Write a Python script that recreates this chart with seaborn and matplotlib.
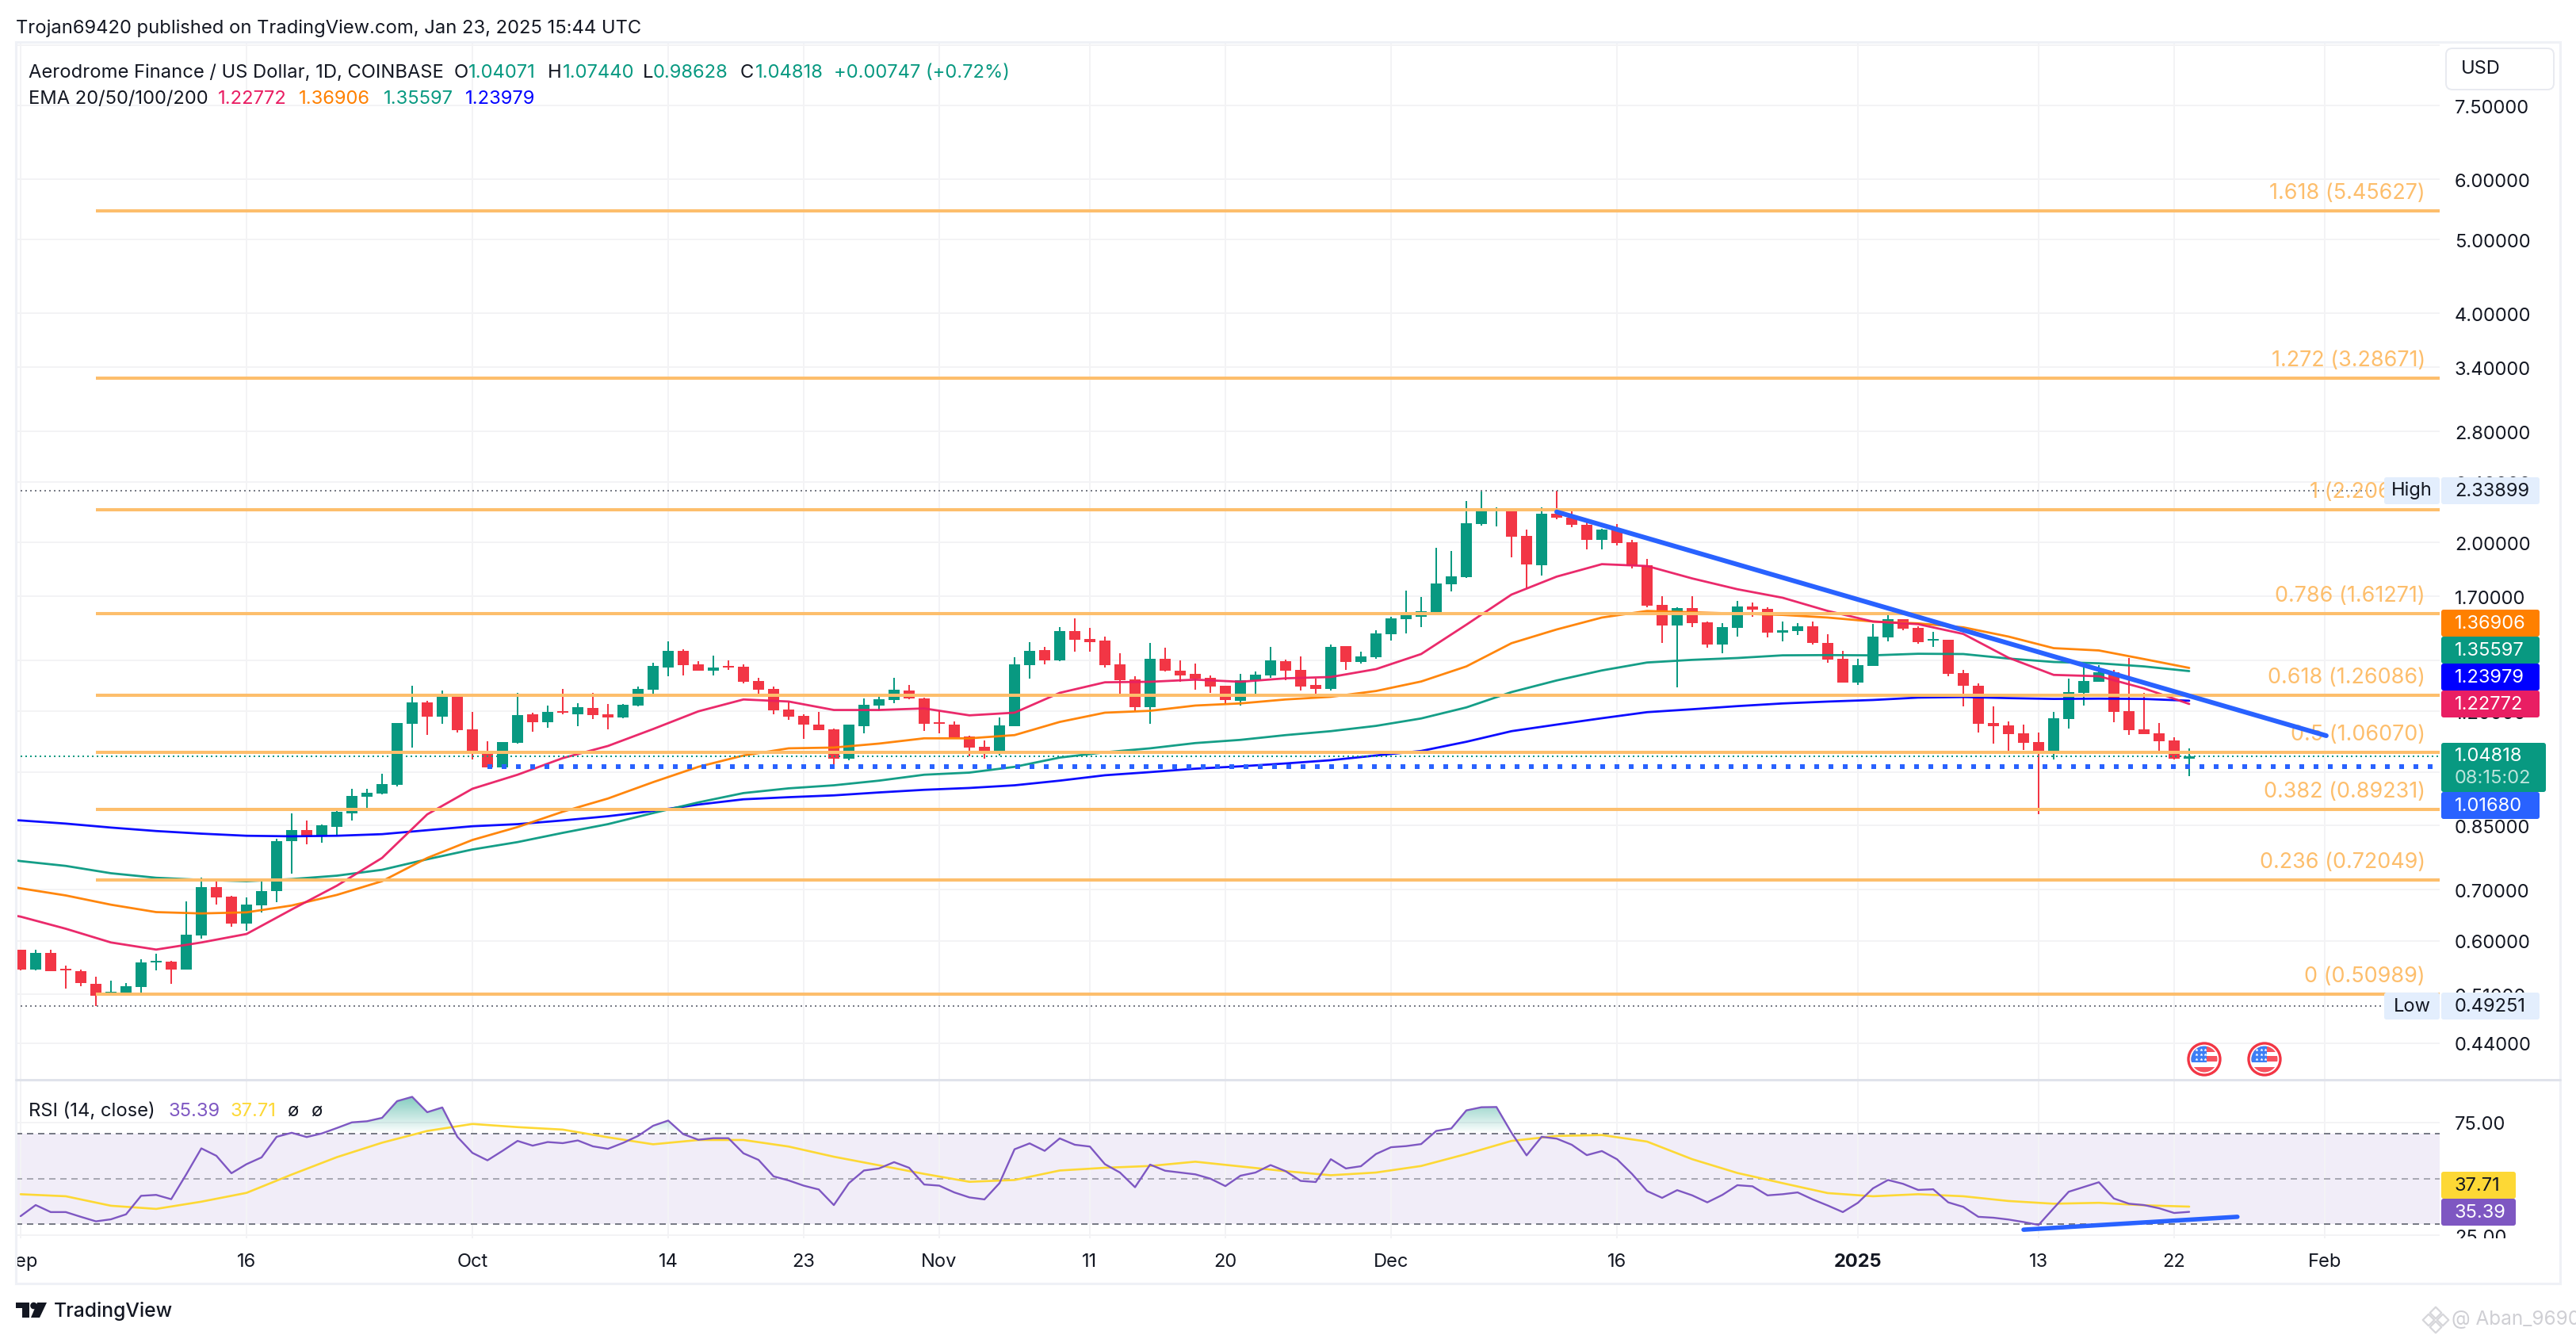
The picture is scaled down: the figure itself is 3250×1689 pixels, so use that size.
"""
Aerodrome Finance / USD daily chart with EMA, fib levels and RSI pane
"""
import numpy as np
import pandas as pd
import matplotlib
matplotlib.use('Agg')
import matplotlib.pyplot as plt
import seaborn as sns
from matplotlib.colors import to_rgb
from matplotlib.patches import Circle, FancyBboxPatch, Polygon, Rectangle
from matplotlib.path import Path
from matplotlib.ticker import NullLocator

# ============================================================================
# DATA
# ============================================================================
opens = [.583, .550, .578, .551, .547, .527, .508, .513, .522, .562,
         .563, .550, .610, .706, .686, .632, .668, .697, .811, .839,
         .823, .847, .882, .928, .936, .961, 1.156, 1.234, 1.181, 1.255,
         1.137, 1.058, 1.0135, 1.092, 1.190, 1.162, 1.201, 1.190, 1.213, 1.190,
         1.179, 1.222, 1.282, 1.371, 1.442, 1.384, 1.358, 1.377, 1.374, 1.316,
         1.285, 1.207, 1.184, 1.153, 1.137, 1.041, 1.148, 1.222, 1.243, 1.279,
         1.249, 1.162, 1.153, 1.113, 1.079, 1.063, 1.148, 1.381, 1.445, 1.401,
         1.531, 1.494, 1.487, 1.384, 1.322, 1.216, 1.407, 1.358, 1.345, 1.329,
         1.297, 1.240, 1.319, 1.338, 1.397, 1.361, 1.300, 1.285, 1.463, 1.394,
         1.414, 1.516, 1.587, 1.598, 1.621, 1.763, 1.802, 2.116, 2.204, 2.209,
         2.041, 1.868, 2.183, 2.157, 2.111, 2.017, 2.081, 2.002, 1.868, 1.657,
         1.557, 1.641, 1.572, 1.470, 1.546, 1.649, 1.637, 1.523, 1.531, 1.553,
         1.477, 1.407, 1.310, 1.377, 1.502, 1.587, 1.546, 1.487, 1.491, 1.348,
         1.297, 1.159, 1.151, 1.124, 1.094, 1.056, 1.173, 1.270, 1.313, 1.351,
         1.202, 1.137, 1.124, 1.100, 1.04071]
highs = [.584, .583, .583, .557, .550, .538, .531, .528, .567, .577,
         .564, .676, .726, .721, .687, .684, .725, .817, .882, .863,
         .853, .890, .950, .950, .994, 1.159, 1.297, 1.240, 1.279, 1.255,
         1.199, 1.097, 1.094, 1.270, 1.196, 1.222, 1.285, 1.231, 1.270, 1.228,
         1.228, 1.294, 1.391, 1.484, 1.449, 1.397, 1.421, 1.401, 1.384, 1.329,
         1.294, 1.234, 1.190, 1.199, 1.140, 1.153, 1.249, 1.267, 1.329, 1.301,
         1.252, 1.201, 1.165, 1.116, 1.100, 1.179, 1.414, 1.480, 1.459, 1.549,
         1.590, 1.545, 1.505, 1.431, 1.335, 1.477, 1.455, 1.401, 1.387, 1.338,
         1.297, 1.345, 1.355, 1.459, 1.404, 1.418, 1.326, 1.469, 1.463, 1.438,
         1.534, 1.598, 1.730, 1.697, 1.969, 1.950, 2.268, 2.339, 2.225, 2.214,
         2.081, 2.225, 2.339, 2.220, 2.152, 2.086, 2.116, 2.017, 1.904, 1.701,
         1.645, 1.701, 1.575, 1.568, 1.677, 1.669, 1.645, 1.575, 1.568, 1.575,
         1.516, 1.442, 1.407, 1.564, 1.606, 1.587, 1.553, 1.527, 1.491, 1.361,
         1.307, 1.219, 1.165, 1.153, 1.126, 1.199, 1.326, 1.391, 1.381, 1.361,
         1.411, 1.270, 1.159, 1.110, 1.0744]
lows = [.549, .549, .547, .519, .523, .4925, .508, .511, .513, .549,
        .527, .550, .604, .669, .626, .619, .654, .674, .735, .803,
        .807, .825, .863, .888, .934, .957, 1.076, 1.118, 1.156, 1.126,
        1.038, 1.0135, 1.0135, 1.089, 1.129, 1.143, 1.190, 1.148, 1.173, 1.137,
        1.176, 1.219, 1.264, 1.335, 1.338, 1.358, 1.338, 1.361, 1.307, 1.255,
        1.190, 1.170, 1.105, 1.134, 1.021, 1.036, 1.124, 1.205, 1.231, 1.246,
        1.132, 1.124, 1.110, 1.048, 1.041, 1.0505, 1.148, 1.326, 1.384, 1.397,
        1.438, 1.438, 1.371, 1.267, 1.201, 1.156, 1.355, 1.313, 1.282, 1.270,
        1.228, 1.222, 1.264, 1.329, 1.319, 1.279, 1.261, 1.279, 1.361, 1.387,
        1.407, 1.487, 1.520, 1.549, 1.618, 1.726, 1.798, 2.106, 2.101, 1.913,
        1.742, 1.810, 2.146, 2.096, 1.960, 1.960, 1.983, 1.850, 1.645, 1.477,
        1.291, 1.549, 1.456, 1.431, 1.505, 1.598, 1.502, 1.484, 1.512, 1.470,
        1.391, 1.310, 1.300, 1.377, 1.484, 1.534, 1.473, 1.459, 1.335, 1.219,
        1.126, 1.089, 1.056, 1.068, .880, 1.038, 1.140, 1.222, 1.313, 1.162,
        1.118, 1.121, 1.058, 1.038, .98628]
closes = [.550, .578, .547, .549, .528, .508, .514, .523, .562, .565,
          .550, .611, .706, .684, .632, .669, .697, .811, .839, .823,
          .851, .886, .930, .939, .964, 1.159, 1.234, 1.181, 1.255, 1.134,
          1.056, 1.0135, 1.094, 1.187, 1.162, 1.199, 1.196, 1.216, 1.187, 1.179,
          1.225, 1.285, 1.377, 1.442, 1.381, 1.358, 1.371, 1.371, 1.313, 1.282,
          1.204, 1.181, 1.153, 1.134, 1.041, 1.153, 1.225, 1.246, 1.282, 1.249,
          1.156, 1.156, 1.110, 1.076, 1.063, 1.151, 1.384, 1.442, 1.401, 1.531,
          1.491, 1.480, 1.381, 1.319, 1.216, 1.407, 1.358, 1.338, 1.326, 1.294,
          1.243, 1.319, 1.342, 1.401, 1.358, 1.294, 1.285, 1.459, 1.394, 1.418,
          1.520, 1.590, 1.606, 1.625, 1.768, 1.806, 2.121, 2.209, 2.214, 2.036,
          1.872, 2.183, 2.157, 2.111, 2.017, 2.081, 1.997, 1.863, 1.653, 1.557,
          1.641, 1.568, 1.470, 1.549, 1.649, 1.633, 1.523, 1.534, 1.553, 1.477,
          1.404, 1.310, 1.381, 1.505, 1.587, 1.542, 1.480, 1.494, 1.345, 1.297,
          1.156, 1.148, 1.121, 1.092, 1.056, 1.176, 1.273, 1.316, 1.351, 1.199,
          1.134, 1.121, 1.097, 1.0407, 1.04818]

ema_days = [-1] + list(range(0, 145, 3))
ema20 = [.6504, .6452, .622, .5967, .5840, .5967, .6122, .6593, .7085, .7705,
         .8791, .9499, .9911, 1.0422, 1.0812, 1.1380, 1.2005, 1.2445, 1.2368, 1.2055,
         1.2055, 1.2112, 1.1861, 1.1957, 1.2696, 1.3108, 1.3129, 1.3214, 1.3129, 1.3267,
         1.3320, 1.3641, 1.4278, 1.5603, 1.7092, 1.8046, 1.8739, 1.8634, 1.7946, 1.7370,
         1.6929, 1.6266, 1.5753, 1.5629, 1.5173, 1.4119, 1.3405, 1.3351, 1.2870, 1.22772]
ema50 = [.7085, .7029, .6879, .6689, .6541, .6515, .6536, .6673, .6890, .7182,
         .7705, .8136, .8460, .8862, .9223, .9691, 1.0150, 1.0505, 1.0735, 1.0760,
         1.0890, 1.1065, 1.1065, 1.1173, 1.1627, 1.1957, 1.2025, 1.2218, 1.2297, 1.2445,
         1.2545, 1.2767, 1.3140, 1.3753, 1.4754, 1.5380, 1.5944, 1.6266, 1.6200, 1.6136,
         1.6072, 1.5944, 1.5753, 1.5666, 1.5479, 1.5052, 1.4534, 1.4434, 1.4062, 1.36906]
ema100 = [.7686, .7632, .7522, .7357, .7257, .7211, .7182, .7228, .7303, .7434,
          .7675, .7905, .8084, .8313, .8535, .8826, .9115, .9376, .9511, .9599,
          .9735, .9911, .9975, 1.0150, 1.0439, 1.0607, 1.0735, 1.0907, 1.1013, 1.1173,
          1.1307, 1.1489, 1.175, 1.2149, 1.2726, 1.3182, 1.3587, 1.3917, 1.4029, 1.4108,
          1.4222, 1.4233, 1.4222, 1.4290, 1.4278, 1.4085, 1.3939, 1.3884, 1.3753, 1.35597]
ema200 = [.8651, .8631, .8549, .8447, .8359, .8293, .8240, .8227, .8240, .8280,
          .8380, .8481, .8535, .8631, .8742, .8883, .9055, .9201, .9260, .9311,
          .9394, .9469, .9522, .9599, .9735, .9895, .9990, 1.0094, 1.0166, 1.0255,
          1.0356, 1.0505, 1.065, 1.0950, 1.1307, 1.1534, 1.1758, 1.1976, 1.2082, 1.2197,
          1.2296, 1.2366, 1.2425, 1.2515, 1.2535, 1.2495, 1.2465, 1.2475, 1.2465, 1.23979]

rsi_values = [33.5, 38.4, 35.3, 35.3, 33.2, 31.2, 32.1, 34.3, 42.5, 42.9,
              41.0, 52.0, 63.5, 60.2, 52.5, 56.5, 59.5, 68.6, 70.4, 68.5,
              70.1, 72.5, 75.0, 75.5, 77.0, 84.4, 86.3, 79.5, 81.6, 68.6,
              61.5, 58.2, 62.4, 66.8, 64.7, 66.3, 65.8, 67.0, 64.4, 63.3,
              65.9, 69.0, 73.5, 75.8, 69.8, 67.3, 68.0, 68.0, 61.3, 58.4,
              51.1, 49.3, 47.0, 45.3, 38.4, 48.1, 53.7, 54.6, 57.4, 54.9,
              47.5, 47.0, 44.0, 41.8, 40.9, 48.1, 63.1, 65.7, 62.4, 67.9,
              65.1, 64.3, 56.5, 52.8, 46.3, 56.3, 53.6, 52.8, 52.0, 50.1,
              46.8, 51.4, 52.8, 56.1, 53.4, 49.1, 48.6, 58.7, 54.6, 55.6,
              61.0, 64.0, 64.5, 65.4, 71.2, 72.3, 80.3, 81.7, 81.8, 70.4,
              60.4, 68.6, 67.8, 65.1, 60.5, 62.3, 58.7, 52.2, 44.6, 41.6,
              45.0, 42.7, 39.6, 42.9, 47.2, 46.7, 42.7, 43.2, 44.0, 40.9,
              38.2, 35.3, 39.4, 45.8, 49.5, 47.8, 45.1, 45.4, 39.6, 37.6,
              33.2, 32.8, 32.0, 30.9, 29.6, 37.0, 44.3, 46.4, 48.5, 41.3,
              39.0, 38.4, 37.0, 34.9, 35.39]
rsi_ma_days = list(range(0, 145, 3))
rsi_ma = [43.2, 42.3, 38.1, 36.7, 39.9, 43.8, 51.9, 59.6, 66.0, 71.2,
          74.3, 72.9, 71.8, 68.4, 65.3, 67.2, 67.2, 64.3, 59.8, 56.0,
          52.2, 48.7, 49.5, 53.7, 54.9, 55.7, 57.6, 55.5, 53.4, 51.6,
          52.8, 55.7, 61.0, 66.8, 69.0, 69.4, 66.5, 58.7, 52.6, 48.1,
          43.7, 42.3, 43.2, 42.3, 40.2, 39.0, 39.4, 38.3, 37.71]

fib_ratios = ['0', '0.236', '0.382', '0.5', '0.618', '0.786', '1', '1.272', '1.618']
fib_prices = [0.50989, 0.72049, 0.89231, 1.06070, 1.26086, 1.61271, 2.20660, 3.28671, 5.45627]

price_ticks = [9.0, 7.5, 6.0, 5.0, 4.0, 3.4, 2.8, 2.4, 2.0, 1.7, 1.4, 1.2, 1.0, 0.85, 0.7, 0.6, 0.51, 0.44]
rsi_ticks = [75, 25]
time_ticks = [0, 15, 30, 43, 52, 61, 71, 80, 91, 106, 122, 134, 143, 153]
time_labels = ['Sep', '16', 'Oct', '14', '23', 'Nov', '11', '20', 'Dec', '16', '2025', '13', '22', 'Feb']
event_days = [145, 149]

trend_days = [102, 153.1]
trend_prices = [2.195, 1.1153]
rsi_trend_days = [133, 147.2]
rsi_trend_values = [27.5, 33.2]
support_price = 1.0168
last_price = 1.04818
high_price = 2.33899
low_price = 0.49251

# ============================================================================
# STYLE / LAYOUT
# ============================================================================
GREEN = '#089981'
RED = '#F23645'
PINK = '#E91E63'
ORANGE = '#FF8000'
BLUE = '#0000FF'
DRAW_BLUE = '#2962FF'
FIB = '#FDBE6C'
PURPLE = '#7E57C2'
YELLOW = '#FDD835'
TEXT = '#131722'
GRID = '#F3F3F5'
FRAME = '#EFF1F6'
GREY = '#787B86'

W, H = 3250, 1690
LEFT, RIGHT, SCALE_RIGHT = 20, 3078, 3230
MAIN_TOP, MAIN_BOTTOM = 54, 1363
RSI_BOTTOM = 1563
PX_PER_DAY = 19.0
DAY0_PX = 26.0

sns.set_theme(style='white')
plt.rcParams['font.family'] = ['Inter', 'DejaVu Sans']

fig = plt.figure(figsize=(W / 100, H / 100), dpi=100, facecolor='white')


def axes_from_px(x0, y0, x1, y1):
    return fig.add_axes([x0 / W, 1 - y1 / H, (x1 - x0) / W, (y1 - y0) / H])


ax = axes_from_px(LEFT, MAIN_TOP, RIGHT, MAIN_BOTTOM)
ax_rsi = axes_from_px(LEFT, MAIN_BOTTOM + 2, RIGHT, RSI_BOTTOM)
over = fig.add_axes([0, 0, 1, 1], zorder=10)
over.set_xlim(0, W)
over.set_ylim(H, 0)
over.axis('off')

xlim = ((LEFT - DAY0_PX) / PX_PER_DAY, (RIGHT - DAY0_PX) / PX_PER_DAY)
price_lim = (np.exp((974.5 - MAIN_BOTTOM) / 417), np.exp((974.5 - MAIN_TOP) / 417))
rsi_lim = (70 - (RSI_BOTTOM - 1431) / 2.85, 70 + (1431 - MAIN_BOTTOM - 2) / 2.85)

for a in (ax, ax_rsi):
    for side in a.spines:
        a.spines[side].set_visible(False)
    a.set_facecolor('white')
    a.set_axisbelow(True)
    a.grid(True, color=GRID, linewidth=1.44)
    a.tick_params(length=0)

# ============================================================================
# PRICE PANE
# ============================================================================
candles = pd.DataFrame({'open': opens, 'high': highs, 'low': lows, 'close': closes})
candles['day'] = np.arange(len(candles))
colors = np.where(candles['close'] >= candles['open'], GREEN, RED)

ax.set_yscale('log')
ax.vlines(candles['day'], candles['low'], candles['high'], colors=colors, linewidth=1.44, zorder=2)
ax.bar(candles['day'], (candles['close'] - candles['open']).abs(),
       bottom=candles[['open', 'close']].min(axis=1), width=14 / PX_PER_DAY,
       color=colors, linewidth=0, zorder=2)

for values, color in [(ema200, BLUE), (ema100, GREEN), (ema50, ORANGE), (ema20, PINK)]:
    sns.lineplot(x=ema_days, y=values, ax=ax, color=color, linewidth=2.0, alpha=0.95,
                 estimator=None, errorbar=None, sort=False, legend=False, zorder=3)

# fib levels + their labels
ax.hlines(fib_prices, 5, xlim[1], colors=FIB, linewidth=2.9, zorder=4)
label_day = (3060 - DAY0_PX) / PX_PER_DAY
for ratio, price in zip(fib_ratios, fib_prices):
    ax.annotate(f'{ratio} ({price:.5f})', (label_day, price), xytext=(0, 23 * 0.72),
                textcoords='offset points', ha='right', va='center',
                color=FIB, fontsize=19.4, zorder=4)

# dotted reference lines
ax.plot(xlim, [last_price, last_price], color=GREEN, linewidth=1.44, linestyle=(0, (1, 2)), zorder=3)
ax.plot(xlim, [high_price, high_price], color=GREY, linewidth=1.44, linestyle=(0, (1, 2)), zorder=3)
ax.plot(xlim, [low_price, low_price], color=GREY, linewidth=1.44, linestyle=(0, (1, 2)), zorder=3)
ax.plot([31, xlim[1]], [support_price, support_price], color=DRAW_BLUE, linewidth=4.32,
        linestyle=(0, (1, 2)), zorder=5)

# trend line
ax.plot(trend_days, trend_prices, color=DRAW_BLUE, linewidth=4.3, solid_capstyle='round', zorder=6)

ax.set_xlim(*xlim)
ax.set_ylim(*price_lim)
ax.set_xlabel('')
ax.set_ylabel('')
ax.set_xticks(time_ticks)
ax.tick_params(labelbottom=False)
ax.yaxis.tick_right()
ax.set_yticks(price_ticks)
ax.set_yticklabels(['' if v == 9.0 else f'{v:.5f}' for v in price_ticks], fontsize=17, color=TEXT)
ax.yaxis.set_minor_locator(NullLocator())
ax.tick_params(axis='y', pad=13.5)

# ============================================================================
# RSI PANE
# ============================================================================
rsi_days = np.arange(len(rsi_values))
rsi_arr = np.array(rsi_values)
ax_rsi.axhspan(30, 70, facecolor=PURPLE, alpha=0.1, linewidth=0, zorder=0.5)
for level, alpha in [(70, 1.0), (50, 0.6), (30, 1.0)]:
    ax_rsi.axhline(level, color=GREY, linewidth=1.44, linestyle=(0, (4, 3)), alpha=alpha, zorder=1)

# overbought gradient, clipped to the area above 70
poly = ax_rsi.fill_between(rsi_days, 70, rsi_arr, where=rsi_arr >= 70, interpolate=True,
                           facecolor='none', edgecolor='none')
grad = np.zeros((128, 1, 4))
grad[..., :3] = to_rgb(GREEN)
grad[..., 3] = np.linspace(0.5, 0.0, 128)[:, None]
im = ax_rsi.imshow(grad, extent=[xlim[0], xlim[1], 70, rsi_arr.max()], aspect='auto',
                   origin='upper', zorder=1.5)
im.set_clip_path(Path.make_compound_path(*poly.get_paths()), ax_rsi.transData)

sns.lineplot(x=rsi_ma_days, y=rsi_ma, ax=ax_rsi, color=YELLOW, linewidth=1.9,
             estimator=None, errorbar=None, sort=False, legend=False, zorder=3)
sns.lineplot(x=rsi_days, y=rsi_values, ax=ax_rsi, color=PURPLE, linewidth=1.7,
             estimator=None, errorbar=None, sort=False, legend=False, zorder=4)
ax_rsi.plot(rsi_trend_days, rsi_trend_values, color=DRAW_BLUE, linewidth=4.0,
            solid_capstyle='round', zorder=6)

ax_rsi.set_xlim(*xlim)
ax_rsi.set_ylim(*rsi_lim)
ax_rsi.set_xlabel('')
ax_rsi.set_ylabel('')
ax_rsi.yaxis.tick_right()
ax_rsi.set_yticks(rsi_ticks)
ax_rsi.set_yticklabels([f'{v:.2f}' for v in rsi_ticks], fontsize=17, color=TEXT)
ax_rsi.tick_params(axis='y', pad=13.5)
ax_rsi.set_xticks(time_ticks)
ax_rsi.set_xticklabels(time_labels, fontsize=17, color=TEXT)
ax_rsi.tick_params(axis='x', pad=13)

# clip the labels cut by the pane edges
clip_all = Rectangle((LEFT / W, 1 - (H - 40) / H), (SCALE_RIGHT - LEFT) / W, 1,
                     transform=fig.transFigure)
for lbl in ax_rsi.get_xticklabels():
    lbl.set_clip_on(True)
    lbl.set_clip_path(clip_all)
    if lbl.get_text() == '2025':
        lbl.set_fontweight('bold')
clip_rsi = Rectangle((0, 1 - RSI_BOTTOM / H), 1, (RSI_BOTTOM - MAIN_BOTTOM) / H, transform=fig.transFigure)
for lbl in ax_rsi.get_yticklabels():
    lbl.set_clip_on(True)
    lbl.set_clip_path(clip_rsi)

# ============================================================================
# FRAME, LEGENDS, TAGS
# ============================================================================
over.add_patch(Rectangle((LEFT, MAIN_TOP), SCALE_RIGHT - LEFT, 1620 - MAIN_TOP,
                         fill=False, edgecolor=FRAME, linewidth=2.2))
over.plot([LEFT, SCALE_RIGHT], [MAIN_BOTTOM, MAIN_BOTTOM], color='#E0E3EB', linewidth=2.2)


def txt(x, y, s, color=TEXT, size=17.1, **kw):
    return over.text(x, y, s, color=color, fontsize=size, va='center', **kw)


txt(20, 36, 'Trojan69420 published on TradingView.com, Jan 23, 2025 15:44 UTC')

txt(36, 92, 'Aerodrome Finance / US Dollar, 1D, COINBASE')
for x, s, c in [(573, 'O', TEXT), (591, '1.04071', GREEN), (691, 'H', TEXT), (710, '1.07440', GREEN),
                (811, 'L', TEXT), (824, '0.98628', GREEN), (934, 'C', TEXT), (953, '1.04818', GREEN),
                (1052, '+0.00747 (+0.72%)', GREEN)]:
    txt(x, 92, s, color=c)
txt(36, 125, 'EMA 20/50/100/200')
for x, s, c in [(275, '1.22772', PINK), (377, '1.36906', ORANGE), (484, '1.35597', GREEN), (587, '1.23979', BLUE)]:
    txt(x, 125, s, color=c)
txt(36, 1402, 'RSI (14, close)')
for x, s, c in [(213, '35.39', PURPLE), (291, '37.71', YELLOW), (363, 'ø', TEXT), (393, 'ø', TEXT)]:
    txt(x, 1402, s, color=c)


def tag(y0, y1, s, fc, tc='white', x0=3080, x1=3204):
    over.add_patch(FancyBboxPatch((x0, y0), x1 - x0, y1 - y0, boxstyle='round,pad=0,rounding_size=3',
                                  facecolor=fc, edgecolor='none'))
    if s:
        txt(3097, (y0 + y1) / 2, s, color=tc, size=17)


tag(603, 637, '2.33899', '#E3EEFD', TEXT)
over.add_patch(FancyBboxPatch((3008, 603), 70, 34, boxstyle='round,pad=0,rounding_size=3',
                              facecolor='#E3EEFD', edgecolor='none'))
txt(3043, 619, 'High', size=17, ha='center')
tag(1253, 1287, '0.49251', '#E3EEFD', TEXT)
over.add_patch(FancyBboxPatch((3008, 1253), 70, 34, boxstyle='round,pad=0,rounding_size=3',
                              facecolor='#E3EEFD', edgecolor='none'))
txt(3043, 1270, 'Low', size=17, ha='center')

tag(770, 804, '1.36906', ORANGE)
tag(804, 838, '1.35597', GREEN)
tag(838, 872, '1.23979', BLUE)
tag(872, 906, '1.22772', PINK)
tag(938, 1000, '', GREEN, x1=3212)
txt(3097, 954, '1.04818', color='white', size=17)
txt(3097, 982, '08:15:02', color='#BDE5DC', size=17)
tag(1000, 1034, '1.01680', DRAW_BLUE)
tag(1479, 1513, '37.71', YELLOW, TEXT, x1=3174)
tag(1513, 1547, '35.39', PURPLE, x1=3174)

# USD button
over.add_patch(FancyBboxPatch((3086, 62), 136, 52, boxstyle='round,pad=0,rounding_size=8',
                              facecolor='white', edgecolor='#E8EAF0', linewidth=1.4))
txt(3105, 87, 'USD', size=17)

# economic event marks
for day in event_days:
    cx, cy = DAY0_PX + day * PX_PER_DAY, 1337
    clip = Circle((cx, cy), 16.5, transform=over.transData)
    over.add_patch(Circle((cx, cy), 20, facecolor='white', edgecolor=RED, linewidth=2.4))
    for y0, y1 in [(1321, 1328), (1333, 1340), (1347, 1354)]:
        over.add_patch(Rectangle((cx - 17, y0), 34, y1 - y0, facecolor='#F7525F', edgecolor='none', clip_path=clip))
    over.add_patch(Rectangle((cx - 17, 1320), 20, 21, facecolor='#3D7EF5', edgecolor='none', clip_path=clip))
    star_x, star_y = np.meshgrid([cx - 10, cx - 4, cx + 1], [1325, 1331, 1337])
    over.scatter(star_x.ravel(), star_y.ravel(), s=5, color='white', marker='*', linewidths=0.3)

# TradingView logo
over.add_patch(Polygon([(20, 1644), (37, 1644), (37, 1663), (28, 1663), (28, 1651), (20, 1651)],
                       facecolor=TEXT, edgecolor='none'))
over.add_patch(Circle((42.5, 1648), 4.3, facecolor=TEXT, edgecolor='none'))
over.add_patch(Polygon([(47, 1644), (59, 1644), (50, 1663), (39, 1663)], facecolor=TEXT, edgecolor='none'))
txt(68, 1654, 'TradingView', size=17.8, fontweight='medium')

# watermark bottom right
for dx, dy in [(0, -9), (-9, 0), (9, 0), (0, 9)]:
    over.scatter(3073 + dx, 1666 + dy, s=55, marker='D', facecolors='none', edgecolors='#D6D6DA', linewidths=1.6)
txt(3093, 1665, '@ Aban_9690', color='#CFCFD4', size=17.5)

over.set_xlim(0, W)
over.set_ylim(H, 0)

plt.savefig('out.png', dpi=100, facecolor='white')
plt.close()
